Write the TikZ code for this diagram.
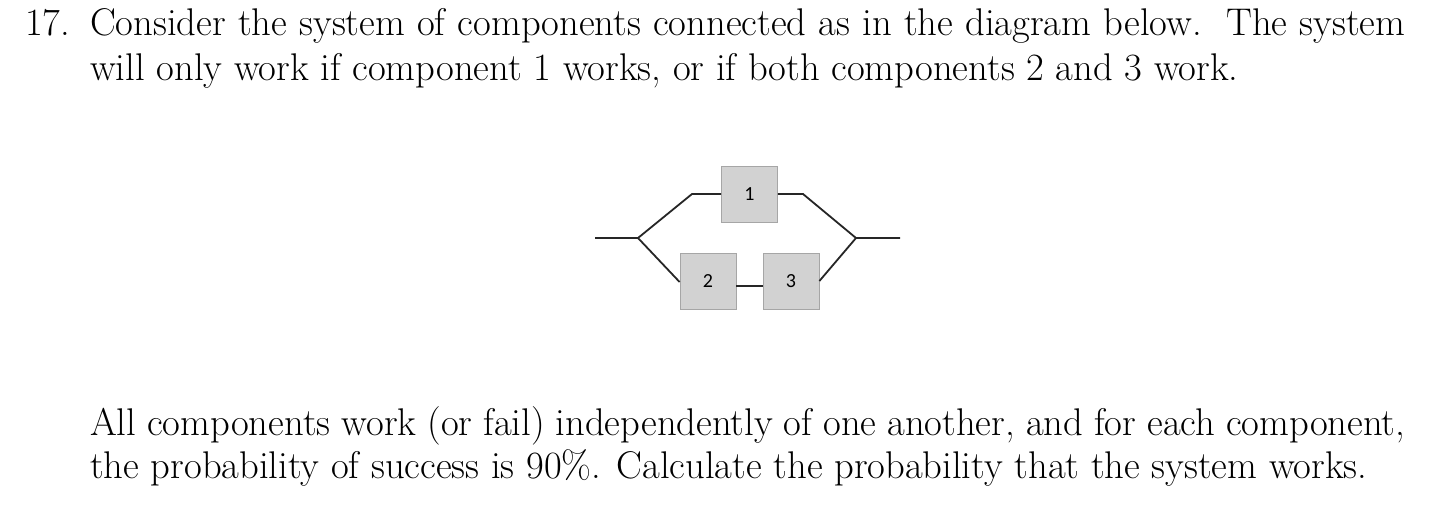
\documentclass[tikz,border=0pt]{standalone}
\usepackage{fontspec}
\newfontfamily\carl{Carlito}
\begin{document}
\begin{tikzpicture}[x=1pt,y=-1pt,
  txt/.style={anchor=base west,inner sep=0pt,font=\fontsize{38.6}{45}\selectfont},
  comp/.style={draw=gray!70,fill=gray!35,line width=0.8pt,minimum width=56pt,minimum height=56pt,inner sep=0pt,font=\carl\fontsize{20}{20}\selectfont},
  wire/.style={line width=1.8pt,black!85}]
\useasboundingbox (0,0) rectangle (1436,512);
\node[txt] (l0) at (25,35) {17.};
\node[txt] (l1) at (90,35) {\makebox[1315pt][s]{Consider the system of components connected as in the diagram below.\ \ The system}};
\node[txt] (l2) at (90,80) {will only work if component 1 works, or if both components 2 and 3 work.};
\node[txt] (l3) at (90,435) {\makebox[1315pt][s]{All components work (or fail) independently of one another, and for each component,}};
\node[txt] (l4) at (90,478) {the probability of success is 90\%. Calculate the probability that the system works.};
\node[comp] (c1) at (749.5,194.5) {1};
\node[comp] (c2) at (708,281) {2};
\node[comp] (c3) at (791,281) {3};
\coordinate (in) at (595,238);
\coordinate (L) at (638,238);
\coordinate (R) at (856,238);
\coordinate (out) at (900,238);
\coordinate (ul) at (692,194);
\coordinate (ur) at (803,194);
\draw[wire] (in) -- (L) -- (ul) -- (c1.west |- ul);
\draw[wire] (c1.east |- ur) -- (ur) -- (R) -- (out);
\draw[wire] (L) -- (c2.west |- 0,282);
\draw[wire] (c2.east |- 0,286) -- (c3.west |- 0,286);
\draw[wire] (c3.east |- 0,281) -- (R);
\end{tikzpicture}
\end{document}
